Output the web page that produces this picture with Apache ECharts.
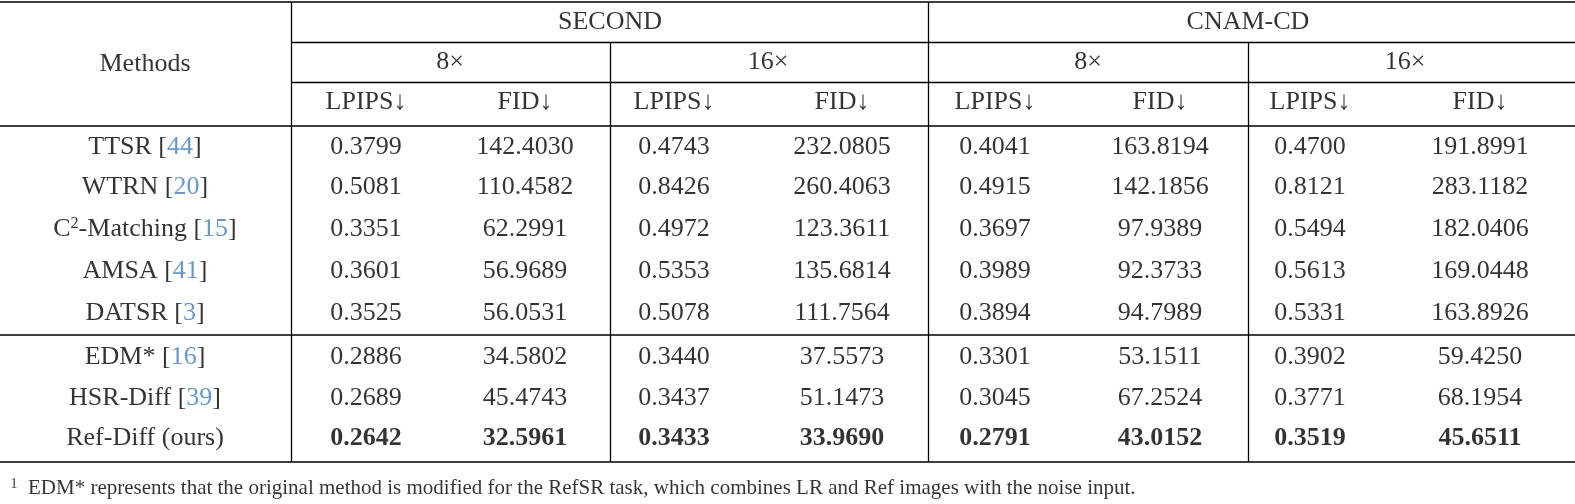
<!DOCTYPE html>
<html><head><meta charset="utf-8">
<script src="https://cdn.jsdelivr.net/npm/echarts@6/dist/echarts.min.js"></script>
<style>html,body{margin:0;padding:0;background:#fff}#c{width:1575px;height:504px}</style>
</head><body><div id="c"></div>
<script>
// ---- data ----
const methods = ['TTSR','WTRN','C^2-Matching','AMSA','DATSR','EDM*','HSR-Diff','Ref-Diff (ours)'];
const refs = ['44','20','15','41','3','16','39',''];
const datasets = ['SECOND','CNAM-CD'];
const scales = ['8×','16×','8×','16×'];
const metrics = ['LPIPS↓','FID↓','LPIPS↓','FID↓','LPIPS↓','FID↓','LPIPS↓','FID↓'];
const values = [
 ['0.3799','142.4030','0.4743','232.0805','0.4041','163.8194','0.4700','191.8991'],
 ['0.5081','110.4582','0.8426','260.4063','0.4915','142.1856','0.8121','283.1182'],
 ['0.3351','62.2991','0.4972','123.3611','0.3697','97.9389','0.5494','182.0406'],
 ['0.3601','56.9689','0.5353','135.6814','0.3989','92.3733','0.5613','169.0448'],
 ['0.3525','56.0531','0.5078','111.7564','0.3894','94.7989','0.5331','163.8926'],
 ['0.2886','34.5802','0.3440','37.5573','0.3301','53.1511','0.3902','59.4250'],
 ['0.2689','45.4743','0.3437','51.1473','0.3045','67.2524','0.3771','68.1954'],
 ['0.2642','32.5961','0.3433','33.9690','0.2791','43.0152','0.3519','45.6511']
];
const footnote = 'EDM* represents that the original method is modified for the RefSR task, which combines LR and Ref images with the noise input.';

// ---- layout ----
const colX = [366,525,674,842,995,1160,1310,1480];
const methodX = 145;
const dsX = [610,1248], scX = [450,768,1088,1405];
const hdrY = [22,62,102];
const rowY = [147,187,229,271,313,357,398,438];
const F = 'Liberation Serif, Times New Roman, serif';
const FS = 26;

const texts = [];
texts.push({value:[methodX,64], name:'Methods'});
datasets.forEach((d,i)=>texts.push({value:[dsX[i],hdrY[0]], name:d}));
scales.forEach((d,i)=>texts.push({value:[scX[i],hdrY[1]], name:d}));
metrics.forEach((d,i)=>texts.push({value:[colX[i],hdrY[2]], name:d}));
methods.forEach((m,r)=>{
  let s = (m==='C^2-Matching') ? 'C{sup|2}-Matching' : m;
  if (refs[r]) s += ' [{cite|'+refs[r]+'}]';
  texts.push({value:[methodX,rowY[r]], name:s});
  values[r].forEach((v,c)=>{
    texts.push({value:[colX[c],rowY[r]], name: r===values.length-1 ? '{b|'+v+'}' : v});
  });
});

const L = (x1,y1,x2,y2,w)=>({coords:[[x1,y1],[x2,y2]], lineStyle:{width:w||1.3}});
const lines = [
  L(0,2,1575,2,1.5), L(291,42,1575,42), L(291,82,1575,82), L(0,126,1575,126,1.5),
  L(0,335,1575,335,1.5), L(0,462,1575,462,1.5),
  L(291,2,291,462), L(928,2,928,462), L(610,42,610,462), L(1248,42,1248,462)
];

const clear = {color:'rgba(0,0,0,0)'};
const chart = echarts.init(document.getElementById('c'));
chart.setOption({
  animation:false,
  grid:{left:0,right:0,top:0,bottom:0},
  xAxis:{type:'value',min:0,max:1575,show:false},
  yAxis:{type:'value',min:0,max:504,inverse:true,show:false},
  series:[
    {type:'lines',coordinateSystem:'cartesian2d',data:lines,lineStyle:{color:'#000',opacity:1},silent:true},
    {type:'scatter',data:texts,symbol:'rect',symbolSize:1,itemStyle:clear,silent:true,
     label:{show:true,position:'inside',formatter:p=>p.name,color:'#000',fontFamily:F,fontSize:FS,
       rich:{sup:{fontFamily:F,fontSize:16,verticalAlign:'top',padding:[0,0,10,0],color:'#000'},
             cite:{fontFamily:F,fontSize:FS,color:'#3d7fc1'},
             b:{fontFamily:F,fontSize:FS,fontWeight:'bold',color:'#000'}}}},
    {type:'scatter',data:[{value:[10,488],name:'{s|1}  '+footnote}],symbol:'rect',symbolSize:1,itemStyle:clear,silent:true,
     label:{show:true,position:'right',distance:0,formatter:p=>p.name,color:'#000',fontFamily:F,fontSize:21,
       rich:{s:{fontFamily:F,fontSize:14,verticalAlign:'top',padding:[0,0,8,0],color:'#000'}}}}
  ]
});
</script></body></html>
